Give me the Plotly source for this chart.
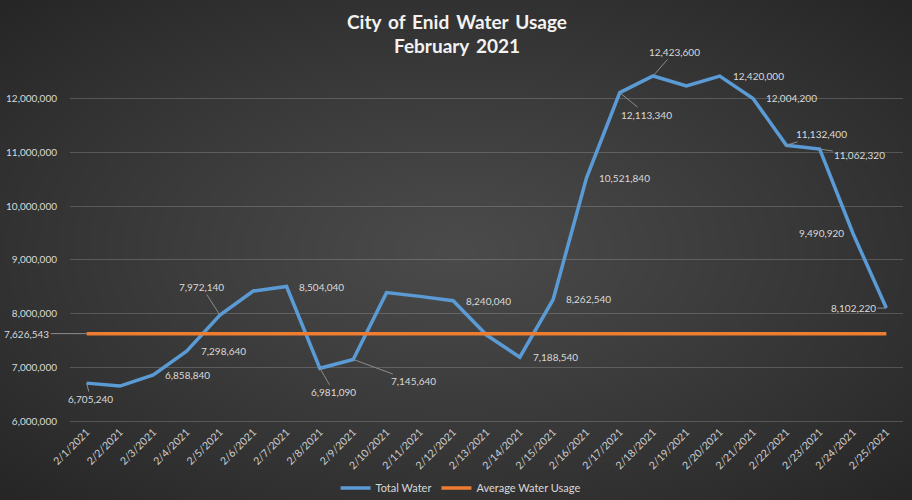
import base64
import struct
import zlib

import numpy as np
import plotly.graph_objects as go

# ---------------- data ----------------
dates = ["2/1/2021", "2/2/2021", "2/3/2021", "2/4/2021", "2/5/2021", "2/6/2021",
         "2/7/2021", "2/8/2021", "2/9/2021", "2/10/2021", "2/11/2021", "2/12/2021",
         "2/13/2021", "2/14/2021", "2/15/2021", "2/16/2021", "2/17/2021", "2/18/2021",
         "2/19/2021", "2/20/2021", "2/21/2021", "2/22/2021", "2/23/2021", "2/24/2021",
         "2/25/2021"]
total_water = [6705240, 6650000, 6858840, 7298640, 7972140, 8420000, 8504040, 6981090,
               7145640, 8390000, 8320000, 8240040, 7600000, 7188540, 8262540, 10521840,
               12113340, 12423600, 12240000, 12420000, 12004200, 11132400, 11062320,
               9490920, 8102220]
average_usage = 7626543
average_series = [average_usage] * len(dates)
y_tick_values = [6000000, 7000000, 8000000, 9000000, 10000000, 11000000, 12000000]
title_lines = ["City of Enid Water Usage", "February 2021"]

# which points carry a data label (index -> placement style)
label_styles = {
    0: ("arrow", 4, 16),
    2: ("right", 10),
    3: ("right", 12),
    4: ("arrow", -18, -28),
    6: ("right", 10),
    7: ("arrow", 14, 24),
    8: ("arrow", 60, 22),
    11: ("right", 11),
    13: ("right", 11),
    14: ("right", 11),
    15: ("right", 11),
    16: ("arrow", 27, 22),
    17: ("arrow", 21, -24),
    19: ("right", 11),
    20: ("right", 11),
    21: ("arrow", 35, -11),
    22: ("arrow", 40, 6),
    23: ("left", -7),
    24: ("arrow", -33, 0),
}

# ---------------- background gradient ----------------
def png_uri(arr):
    h, w = arr.shape[:2]
    raw = b"".join(b"\x00" + arr[r].astype(np.uint8).tobytes() for r in range(h))

    def chunk(tag, data):
        c = struct.pack(">I", len(data)) + tag + data
        return c + struct.pack(">I", zlib.crc32(tag + data) & 0xFFFFFFFF)

    png = b"\x89PNG\r\n\x1a\n"
    png += chunk(b"IHDR", struct.pack(">IIBBBBB", w, h, 8, 2, 0, 0, 0))
    png += chunk(b"IDAT", zlib.compress(raw, 9))
    png += chunk(b"IEND", b"")
    return "data:image/png;base64," + base64.b64encode(png).decode()

gw, gh = 228, 125
gx = (np.arange(gw) + 0.5) / gw - 0.5
gy = (np.arange(gh) + 0.5) / gh - 0.5
GX, GY = np.meshgrid(gx, gy)
dist = np.sqrt((GX / 0.5) ** 2 + (GY / 0.5) ** 2) / np.sqrt(2)
val = 75 - 37 * np.clip(dist, 0, 1) ** 1.1
img = np.repeat(val[:, :, None], 3, axis=2)
bg_uri = png_uri(img)

# ---------------- figure ----------------
W, H = 912, 500
ML, MR, MT, MB = 70, 9, 45, 79
PW, PH = W - ML - MR, H - MT - MB

FONT = "Lato, 'Open Sans', sans-serif"
TXT = "#d9d9d9"
GRID = "rgba(217,217,217,0.22)"

fig = go.Figure()
fig.add_trace(go.Scatter(
    x=dates, y=total_water, mode="lines", name="Total Water",
    line=dict(color="#5B9BD5", width=3.5), hoverinfo="skip"))
fig.add_trace(go.Scatter(
    x=dates, y=average_series, mode="lines", name="Average Water Usage",
    line=dict(color="#ED7D31", width=3.5), hoverinfo="skip"))

annotations = []
for i, style in label_styles.items():
    txt = f"{total_water[i]:,}"
    base = dict(x=dates[i], y=total_water[i], xref="x", yref="y", text=txt,
                font=dict(family=FONT, size=10, color=TXT))
    if style[0] == "arrow":
        base.update(showarrow=True, arrowhead=0, arrowwidth=1, arrowcolor="#8c8c8c",
                    ax=style[1], ay=style[2], standoff=0)
    elif style[0] == "right":
        base.update(showarrow=False, xanchor="left", xshift=style[1])
    else:
        base.update(showarrow=False, xanchor="right", xshift=style[1])
    annotations.append(base)

annotations.append(dict(
    x=dates[0], y=average_usage, xref="x", yref="y", text=f"{average_usage:,}",
    font=dict(family=FONT, size=10, color=TXT), showarrow=True, arrowhead=0,
    arrowwidth=1, arrowcolor="#8c8c8c", ax=-60, ay=0, standoff=0))

# title lines (centres at y=21 and y=45 px from top), slightly widened word gaps
for line, ypx in zip(title_lines, [21, 45]):
    spaced = line.replace(" ", " \u2009")
    annotations.append(dict(
        text=f"<b>{spaced}</b>", xref="paper", yref="paper",
        x=(W / 2 + 1 - ML) / PW, y=1 + (MT - ypx) / PH,
        xanchor="center", yanchor="middle", showarrow=False,
        font=dict(family=FONT, size=19, color="#f2f2f2")))

fig.update_layout(
    width=W, height=H,
    margin=dict(l=ML, r=MR, t=MT, b=MB, pad=0, autoexpand=False),
    paper_bgcolor="#333333", plot_bgcolor="rgba(0,0,0,0)",
    font=dict(family=FONT, color=TXT, size=10),
    showlegend=True,
    legend=dict(orientation="h", xref="container", x=0.505, xanchor="center",
                yref="container", y=12 / H, yanchor="middle",
                font=dict(family=FONT, size=11, color=TXT),
                bgcolor="rgba(0,0,0,0)", itemwidth=30, tracegroupgap=0),
    xaxis=dict(type="category", range=[-0.5, len(dates) - 0.5], tickangle=-45,
               showgrid=False, zeroline=False, showline=True, linecolor=GRID,
               linewidth=1, ticks="", automargin=False,
               tickfont=dict(family=FONT, size=10.5, color="#cfcfcf"), fixedrange=True),
    yaxis=dict(range=[6000000, 13000000], tickvals=y_tick_values, tickformat=",d",
               showgrid=True, gridcolor=GRID, gridwidth=1, zeroline=False,
               showline=False, ticks="", ticklabelstandoff=12, automargin=False,
               tickfont=dict(family=FONT, size=10, color=TXT), fixedrange=True),
    annotations=annotations,
    images=[dict(source=bg_uri, xref="paper", yref="paper",
                 x=-ML / PW, y=1 + MT / PH, sizex=W / PW, sizey=H / PH,
                 xanchor="left", yanchor="top", sizing="stretch", layer="below")],
    hovermode=False,
)

fig.write_html("out.html", config={"displayModeBar": False})
